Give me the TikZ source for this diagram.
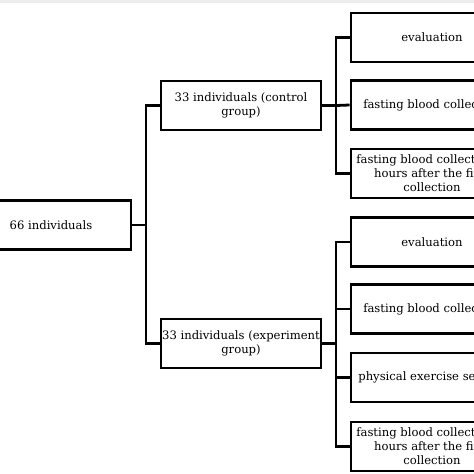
\documentclass[tikz,border=0pt]{standalone}
\usepackage{fontspec}
\setmainfont{DejaVu Serif}
\usetikzlibrary{positioning}

\begin{document}
\begin{tikzpicture}[
x=1pt, y=-1pt,
box/.style={draw, line width=2.8pt, align=center, minimum width=160pt, minimum height=49pt,
  inner sep=0pt, font=\fontsize{11.6}{14}\selectfont, text=black},
line/.style={line width=2.8pt}
]
\clip (0,0) rectangle (474,474);
\fill[black!7] (0,0) rectangle (474,2.5);

\node[box] (all) at (51,225) {66 individuals};
\node[box] (ctrl) at (241,105.5) {33 individuals (control\\group)};
\node[box] (exp) at (241,343.5) {33 individuals (experiment\\group)};

% control group steps
\node[box, minimum width=162pt] (c1) at (432,37.5) {evaluation};
\node[box, minimum width=162pt] (c2) at (432,105) {fasting blood collection};
\node[box, minimum width=162pt] (c3) at (432,173.5) {fasting blood collection\hspace*{1.2em}\\hours after the first\\collection};

% experiment group steps
\node[box, minimum width=162pt] (e1) at (432,242) {evaluation};
\node[box, minimum width=162pt] (e2) at (432,309) {fasting blood collection};
\node[box, minimum width=162pt] (e3) at (432,377.5) {physical exercise session};
\node[box, minimum width=162pt] (e4) at (432,446.5) {fasting blood collection\hspace*{1.2em}\\hours after the first\\collection};

\coordinate (split) at (146,225);
\coordinate (cbus) at (336,105.5);
\coordinate (ebus) at (336,343.5);

\draw[line] (all) -- (split);
\draw[line] (ctrl.west) -| (split) |- (exp.west);
\draw[line] (ctrl) -- (cbus);
\draw[line] (c1.west) -| (cbus) |- (c3.west);
\draw[line] (cbus) -- (c2.west);
\draw[line] (exp) -- (ebus);
\draw[line] (e1.west) -| (ebus) |- (e4.west);
\draw[line] (e2.west) -| (ebus);
\draw[line] (e3.west) -| (ebus);
\end{tikzpicture}
\end{document}
